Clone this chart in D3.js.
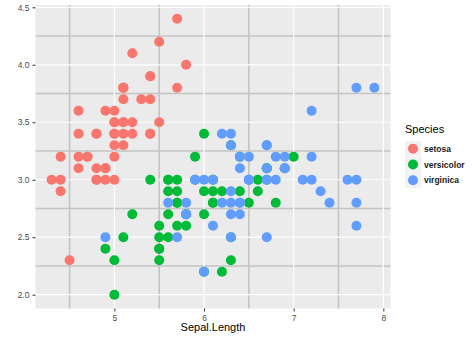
<!DOCTYPE html>
<html><head><meta charset="utf-8">
<script src="https://cdn.jsdelivr.net/npm/d3@7"></script>
<style>body{margin:0;background:#fff}svg{display:block}</style>
</head><body><svg id="c" width="474" height="338"></svg>
<script>
const species = ["setosa","versicolor","virginica"];
const colors = ["#F8766D","#00BA38","#619CFF"];
const setosaLength = [5.1,4.9,4.7,4.6,5.0,5.4,4.6,5.0,4.4,4.9,5.4,4.8,4.8,4.3,5.8,5.7,5.4,5.1,5.7,5.1,5.4,5.1,4.6,5.1,4.8,5.0,5.0,5.2,5.2,4.7,4.8,5.4,5.2,5.5,4.9,5.0,5.5,4.9,4.4,5.1,5.0,4.5,4.4,5.0,5.1,4.8,5.1,4.6,5.3,5.0];
const setosaWidth  = [3.5,3.0,3.2,3.1,3.6,3.9,3.4,3.4,2.9,3.1,3.7,3.4,3.0,3.0,4.0,4.4,3.9,3.5,3.8,3.8,3.4,3.7,3.6,3.3,3.4,3.0,3.4,3.5,3.4,3.2,3.1,3.4,4.1,4.2,3.1,3.2,3.5,3.6,3.0,3.4,3.5,2.3,3.2,3.5,3.8,3.0,3.8,3.2,3.7,3.3];
const versicolorLength = [7.0,6.4,6.9,5.5,6.5,5.7,6.3,4.9,6.6,5.2,5.0,5.9,6.0,6.1,5.6,6.7,5.6,5.8,6.2,5.6,5.9,6.1,6.3,6.1,6.4,6.6,6.8,6.7,6.0,5.7,5.5,5.5,5.8,6.0,5.4,6.0,6.7,6.3,5.6,5.5,5.5,6.1,5.8,5.0,5.6,5.7,5.7,6.2,5.1,5.7];
const versicolorWidth  = [3.2,3.2,3.1,2.3,2.8,2.8,3.3,2.4,2.9,2.7,2.0,3.0,2.2,2.9,2.9,3.1,3.0,2.7,2.2,2.5,3.2,2.8,2.5,2.8,2.9,3.0,2.8,3.0,2.9,2.6,2.4,2.4,2.7,2.7,3.0,3.4,3.1,2.3,3.0,2.5,2.6,3.0,2.6,2.3,2.7,3.0,2.9,2.9,2.5,2.8];
const virginicaLength = [6.3,5.8,7.1,6.3,6.5,7.6,4.9,7.3,6.7,7.2,6.5,6.4,6.8,5.7,5.8,6.4,6.5,7.7,7.7,6.0,6.9,5.6,7.7,6.3,6.7,7.2,6.2,6.1,6.4,7.2,7.4,7.9,6.4,6.3,6.1,7.7,6.3,6.4,6.0,6.9,6.7,6.9,5.8,6.8,6.7,6.7,6.3,6.5,6.2,5.9];
const virginicaWidth  = [3.3,2.7,3.0,2.9,3.0,3.0,2.5,2.9,2.5,3.6,3.2,2.7,3.0,2.5,2.8,3.2,3.0,3.8,2.6,2.2,3.2,2.8,2.8,2.7,3.3,3.2,2.8,3.0,2.8,3.0,2.8,3.8,2.8,2.8,2.6,3.0,3.4,3.1,3.0,3.1,3.1,3.1,2.7,3.2,3.3,3.0,2.5,3.0,3.4,3.0];
const xTicks = [5,6,7,8];
const yTicks = [2.0,2.5,3.0,3.5,4.0,4.5];
const xMinor = [4.5,5.5,6.5,7.5];
const yMinor = [2.25,2.75,3.25,3.75,4.25];

const lengths = [setosaLength, versicolorLength, virginicaLength];
const widths = [setosaWidth, versicolorWidth, virginicaWidth];
const data = [];
species.forEach((s,i)=>lengths[i].forEach((v,j)=>data.push({s:i,x:v,y:widths[i][j]})));

const svg = d3.select("#c");
const L=35.5, R=390.5, T=5, B=308.5;
const x = d3.scaleLinear().domain([4.12,8.08]).range([L,R]);
const y = d3.scaleLinear().domain([1.88,4.52]).range([B,T]);

svg.append("rect").attr("x",L).attr("y",T).attr("width",R-L).attr("height",B-T).attr("fill","#EBEBEB");
const g = svg.append("g");
g.selectAll(".ym").data(yMinor).join("line").attr("x1",L).attr("x2",R).attr("y1",d=>y(d)).attr("y2",d=>y(d)).attr("stroke","#C4C4C4").attr("stroke-width",1.6);
g.selectAll(".xm").data(xMinor).join("line").attr("y1",T).attr("y2",B).attr("x1",d=>x(d)).attr("x2",d=>x(d)).attr("stroke","#C4C4C4").attr("stroke-width",1.6);
g.selectAll(".yM").data(yTicks).join("line").attr("x1",L).attr("x2",R).attr("y1",d=>y(d)).attr("y2",d=>y(d)).attr("stroke","#FFFFFF").attr("stroke-width",1.2);
g.selectAll(".xM").data(xTicks).join("line").attr("y1",T).attr("y2",B).attr("x1",d=>x(d)).attr("x2",d=>x(d)).attr("stroke","#FFFFFF").attr("stroke-width",1.2);

svg.append("g").selectAll("circle").data(data).join("circle")
  .attr("cx",d=>x(d.x)).attr("cy",d=>y(d.y)).attr("r",5).attr("fill",d=>colors[d.s]);

const xAxis = svg.append("g").attr("transform",`translate(0,${B})`)
  .call(d3.axisBottom(x).tickValues(xTicks).tickSize(3).tickPadding(3).tickFormat(d3.format("d")));
const yAxis = svg.append("g").attr("transform",`translate(${L},0)`)
  .call(d3.axisLeft(y).tickValues(yTicks).tickSize(3).tickPadding(3).tickFormat(d3.format(".1f")));
[xAxis,yAxis].forEach(a=>{
  a.select(".domain").remove();
  a.selectAll(".tick line").attr("stroke","#333").attr("stroke-width",1);
  a.selectAll(".tick text").attr("fill","#4D4D4D").style("font-family","Liberation Sans, Arial, sans-serif").style("font-size","8.5px");
});

svg.append("text").attr("x",(L+R)/2).attr("y",331).attr("text-anchor","middle")
  .style("font-family","Liberation Sans, Arial, sans-serif").style("font-size","11px").attr("fill","#000").text("Sepal.Length");

const lg = svg.append("g");
lg.append("text").attr("x",405).attr("y",133).style("font-family","Liberation Sans, Arial, sans-serif").style("font-size","11px").text("Species");
const ky = d3.scaleBand().domain(species).range([141,188]);
species.forEach((s,i)=>{
  lg.append("rect").attr("x",405).attr("y",ky(s)).attr("width",16).attr("height",ky.bandwidth()).attr("fill","#F2F2F2");
  lg.append("circle").attr("cx",413).attr("cy",ky(s)+ky.bandwidth()/2).attr("r",5).attr("fill",colors[i]);
  lg.append("text").attr("x",424).attr("y",ky(s)+ky.bandwidth()/2+3.2)
    .style("font-family","Liberation Sans, Arial, sans-serif").style("font-size","8.5px").style("font-weight","bold").attr("fill","#1a1a1a").text(s);
});
</script></body></html>
